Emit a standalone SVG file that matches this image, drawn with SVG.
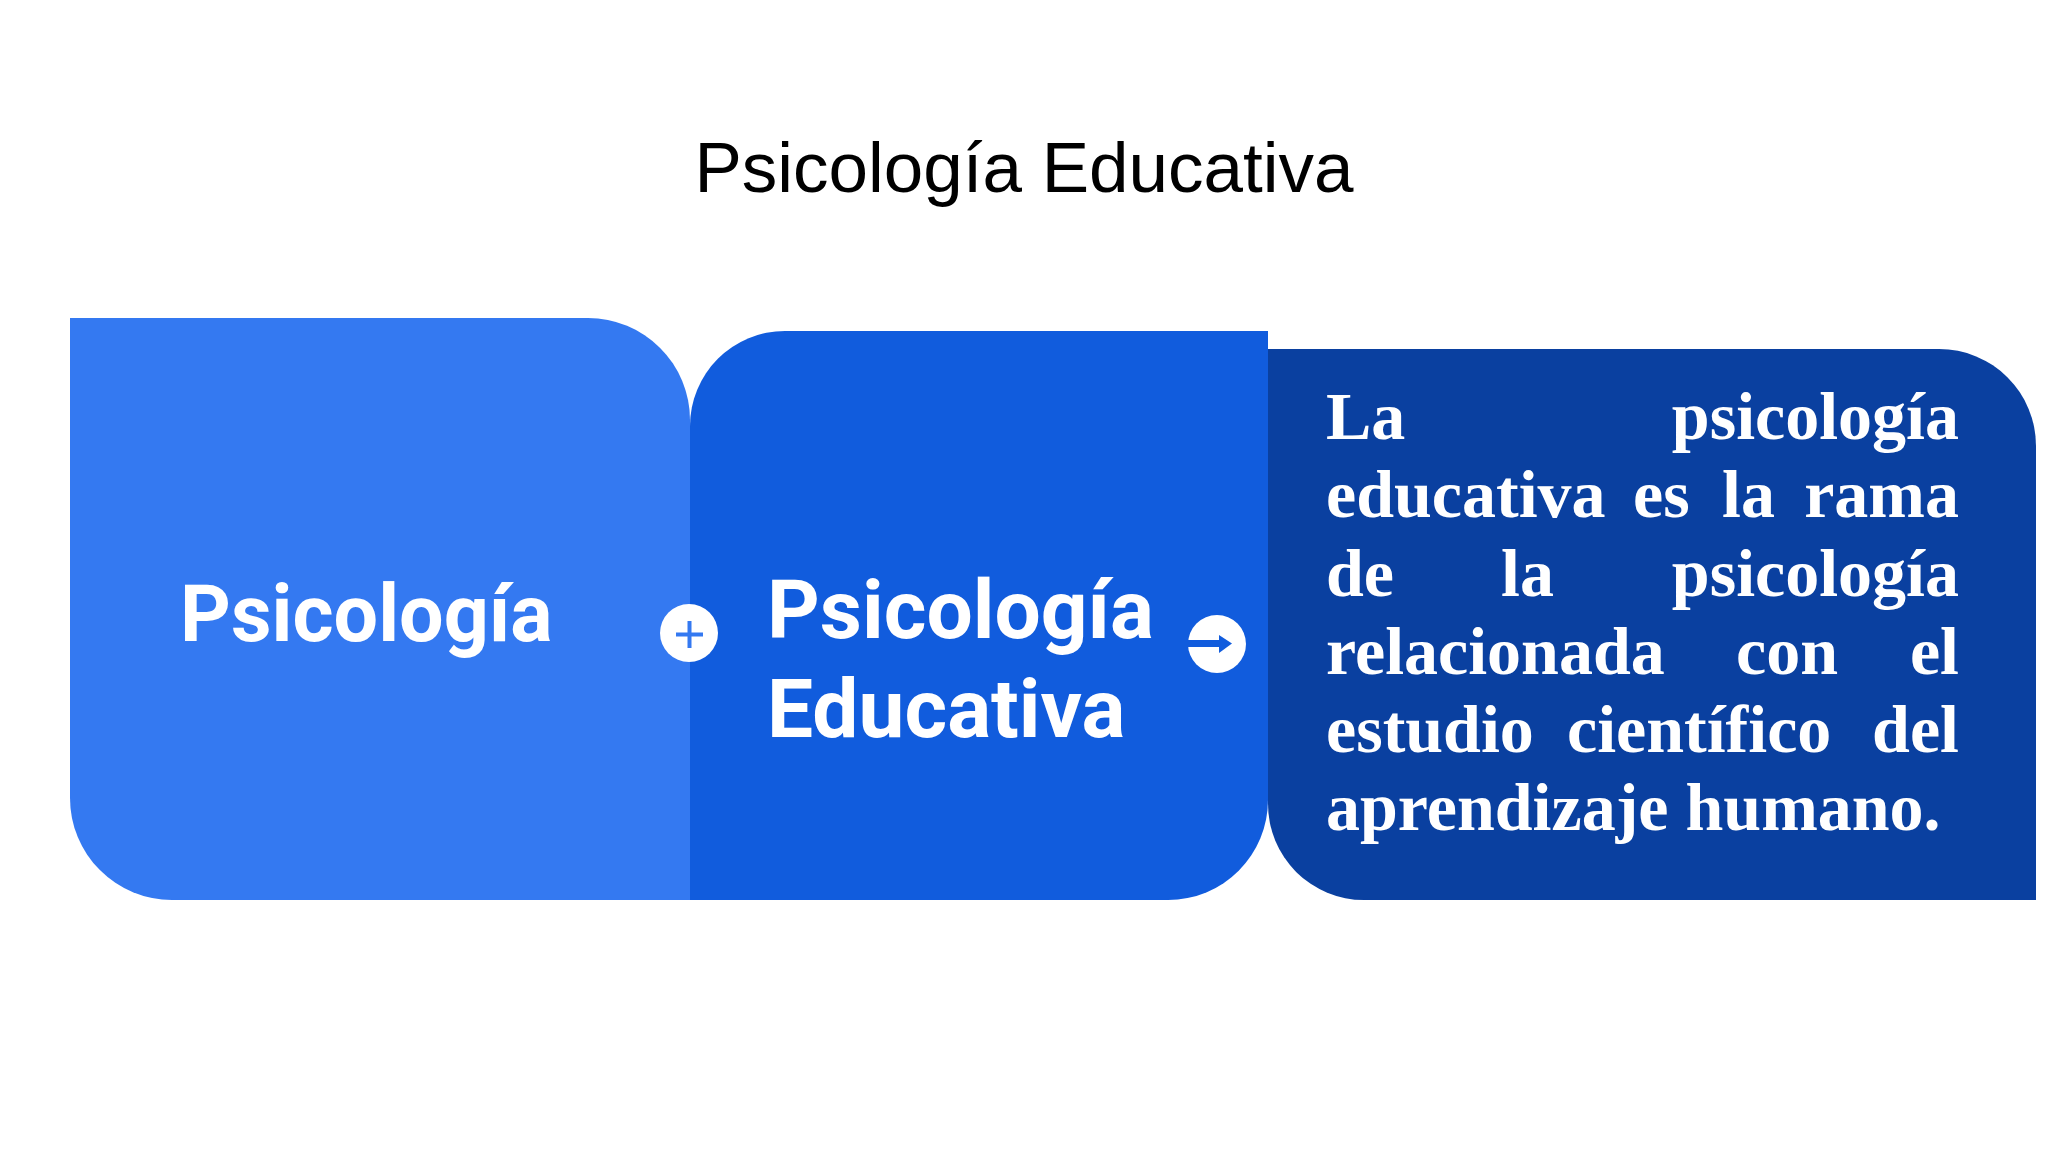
<svg xmlns="http://www.w3.org/2000/svg" width="2048" height="1152" viewBox="0 0 2048 1152">
<style>
.title{font-family:"Liberation Sans",Arial,sans-serif;font-size:71px;fill:#000}
.lbl{font-family:Roboto,"Liberation Sans",sans-serif;font-weight:700;fill:#fff}
.desc{font-family:"Liberation Serif","DejaVu Serif",serif;font-weight:700;font-size:68px;fill:#fff}
</style>
<rect width="2048" height="1152" fill="#fff"/>
<text class="title" x="1024" y="192" text-anchor="middle">Psicología Educativa</text>
<g id="node-psicologia">
<path d="M70,318 H588 A102,102 0 0 1 690,420 V900 H172 A102,102 0 0 1 70,798 Z" fill="#3479F1"/>
<text class="lbl" x="180" y="641" font-size="79">Psicología</text>
</g>
<g id="node-psicologia-educativa">
<path d="M690,900 V426 A95,95 0 0 1 785,331 H1268 V800 A100,100 0 0 1 1168,900 Z" fill="#115CDD"/>
<text class="lbl" x="767" y="638" font-size="82">Psicología</text>
<text class="lbl" x="767" y="737" font-size="82">Educativa</text>
</g>
<g id="node-definicion">
<path d="M1268,349 H1939 A97,97 0 0 1 2036,446 V900 H1364 A96,96 0 0 1 1268,804 Z" fill="#0A40A0"/>
<g class="desc">
<text x="1326" y="439">La</text>
<text x="1959" y="439" text-anchor="end">psicología</text>
<text x="1326" y="517">educativa</text>
<text x="1633" y="517">es</text>
<text x="1722" y="517">la</text>
<text x="1959" y="517" text-anchor="end">rama</text>
<text x="1326" y="596">de</text>
<text x="1501" y="596">la</text>
<text x="1959" y="596" text-anchor="end">psicología</text>
<text x="1326" y="674">relacionada</text>
<text x="1736" y="674">con</text>
<text x="1959" y="674" text-anchor="end">el</text>
<text x="1326" y="752">estudio</text>
<text x="1567" y="752">científico</text>
<text x="1959" y="752" text-anchor="end">del</text>
<text x="1326" y="830">aprendizaje humano.</text>
</g>
</g>
<g id="connectors">
<g id="plus">
<circle cx="689" cy="633" r="29" fill="#fff"/>
<path d="M676,634.5 H703 M689.5,621 V648" stroke="#3479F1" stroke-width="4" fill="none"/>
</g>
<g id="arrow">
<circle cx="1217" cy="644" r="29" fill="#fff"/>
<rect x="1188" y="640" width="34" height="7" fill="#115CDD"/>
<path d="M1219,635 L1232,643.5 L1219,653 Z" fill="#115CDD"/>
</g>
</g>
</svg>
